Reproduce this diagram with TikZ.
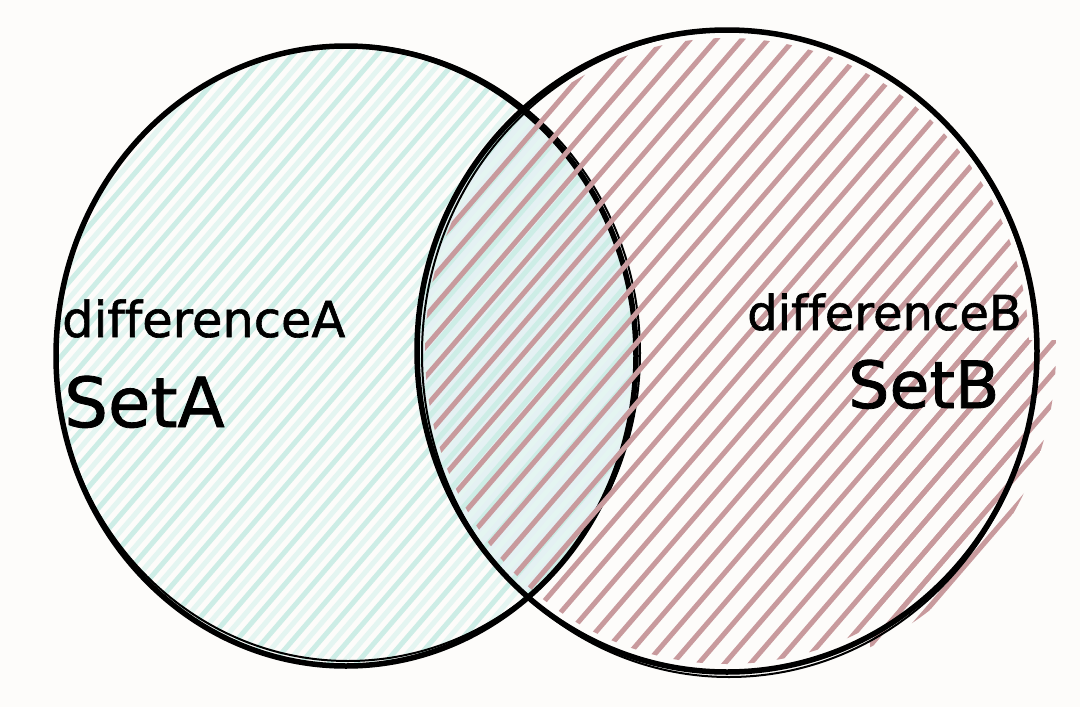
\documentclass[tikz,border=0pt]{standalone}
\usepackage{fontspec}
\setmainfont[Ligatures=NoCommon, FakeBold=1.2]{DejaVu Sans}
\definecolor{bgc}{HTML}{FDFCFA}
\definecolor{pinkh}{HTML}{C89A9D}
\definecolor{cyanh}{HTML}{CDEDE6}
\definecolor{cyanl}{HTML}{E4F5F1}
\definecolor{overl}{HTML}{E4F1F3}
\begin{document}
\begin{tikzpicture}[x=1pt,y=-1pt,
  outline/.style={line width=5.5pt, black},
  sketch/.style={line width=2pt, black},
  lbl/.style={inner sep=0pt, anchor=base west}]
\fill[bgc] (0,0) rectangle (1080,707);
\useasboundingbox (0,0) rectangle (1080,707);
% overlap light fill
\begin{scope}
  \clip (346,356) ellipse [x radius=290, y radius=310];
  \fill[overl] (727,351) ellipse [x radius=310, y radius=321];
\end{scope}
% hatch of A
\begin{scope}
  \clip (346,356) ellipse [x radius=290, y radius=310];
  \foreach \i in {-30,...,30} {
    \draw[cyanl, line width=5pt] (\i*28+14, 720) -- ++(620,-720);
    \draw[cyanh, line width=5pt] (\i*28, 720) -- ++(620,-720);
  }
\end{scope}
% outline of A
\draw[outline] (346,356) ellipse [x radius=290, y radius=310];
\draw[sketch] (348,353) ellipse [x radius=292, y radius=308];
% hatch of B
\begin{scope}
  \clip (727,351) ellipse [x radius=302, y radius=313];
  \foreach \i in {-12,...,42}
    \draw[pinkh, line width=5pt] (\i*26, 720) -- ++(620,-720);
\end{scope}
\begin{scope}
  \clip (870,340) rectangle (1080,707);
  \clip (730,351) ellipse [x radius=326, y radius=328];
  \foreach \i in {-12,...,42}
    \draw[pinkh, line width=5pt] (\i*26, 720) -- ++(620,-720);
\end{scope}
% outline of B
\draw[outline] (727,351) ellipse [x radius=310, y radius=321];
\draw[sketch] (729,354) ellipse [x radius=307, y radius=323];
% labels
\node[lbl, font=\fontsize{49.5}{55}\selectfont] (diffA) at (62,337) {differenceA};
\node[lbl, font=\fontsize{69}{75}\selectfont] (setA) at (64,427) {SetA};
\node[lbl, font=\fontsize{48}{55}\selectfont] (diffB) at (747,330) {differenceB};
\node[lbl, font=\fontsize{65}{72}\selectfont] (setB) at (848,408) {SetB};
\end{tikzpicture}
\end{document}
